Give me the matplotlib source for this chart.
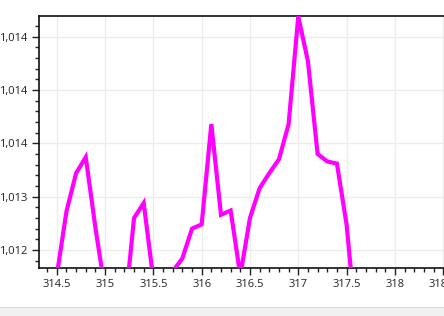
"""
plot.py - serie de presion (recorte del grafico de referencia).
"""
import matplotlib
matplotlib.use("Agg")
import matplotlib.pyplot as plt
import matplotlib.ticker as mticker
from matplotlib.patches import Rectangle

plt.rcParams["font.family"] = ["Open Sans", "DejaVu Sans"]

# datos
x_vals = [314.4, 314.5, 314.6, 314.7, 314.8, 314.9, 315.0, 315.1, 315.2, 315.3,
          315.4, 315.5, 315.6, 315.7, 315.8, 315.9, 316.0, 316.1, 316.2, 316.3,
          316.4, 316.5, 316.6, 316.7, 316.8, 316.9, 317.0, 317.1, 317.2, 317.3,
          317.4, 317.5, 317.6]
y_vals = [1011.55, 1011.76, 1012.36, 1012.72, 1012.87, 1012.21, 1011.62, 1011.50,
          1011.40, 1012.30, 1012.44, 1011.72, 1011.60, 1011.80, 1011.92, 1012.20,
          1012.24, 1013.18, 1012.33, 1012.37, 1011.76, 1012.30, 1012.58, 1012.72,
          1012.85, 1013.18, 1014.19, 1013.77, 1012.90, 1012.83, 1012.81, 1012.24,
          1011.28]

x_ticks = [314.5, 315, 315.5, 316, 316.5, 317, 317.5, 318, 318.5]
x_labels = ["314.5", "315", "315.5", "316", "316.5", "317", "317.5", "318", "318.5"]
y_ticks = [1012.0, 1012.5, 1013.0, 1013.5, 1014.0]
y_labels = ["1,012", "1,013", "1,014", "1,014", "1,014"]

W, H = 444, 316
fig = plt.figure(figsize=(W / 100, H / 100), dpi=100)

# franja gris inferior
fig.patches.append(Rectangle((0, 0), 1, 8 / H, transform=fig.transFigure,
                             facecolor="#f0f0f0", edgecolor="none", zorder=0))
fig.patches.append(Rectangle((0, 8 / H), 1, 1.5 / H, transform=fig.transFigure,
                             facecolor="#d8d8d8", edgecolor="none", zorder=0))

x0, x1 = 314.316, 318.6
ax = fig.add_axes([39 / W, 48 / H, (x1 - x0) * 96.6 / W, 252 / H])
ax.plot(x_vals, y_vals, color="#ff00ff", lw=3, solid_joinstyle="miter", zorder=3)

ax.set_xlim(x0, x1)
ax.set_ylim(1011.831, 1014.194)

ax.set_xticks(x_ticks)
ax.set_xticklabels(x_labels)
ax.set_yticks(y_ticks)
ax.set_yticklabels(y_labels)
ax.xaxis.set_minor_locator(mticker.AutoMinorLocator(5))
ax.yaxis.set_minor_locator(mticker.AutoMinorLocator(5))

ax.tick_params(which="major", length=5, width=1, color="#222222",
               labelsize=8, labelcolor="#222222", pad=3)
ax.tick_params(which="minor", length=3, width=1, color="#222222")

ax.grid(True, which="major", color="#ececec", lw=1)
ax.set_axisbelow(True)
for s in ["left", "bottom", "top"]:
    ax.spines[s].set_color("#111111")
    ax.spines[s].set_linewidth(1.2)
ax.spines["right"].set_visible(False)

fig.savefig("out.png", dpi=100)
